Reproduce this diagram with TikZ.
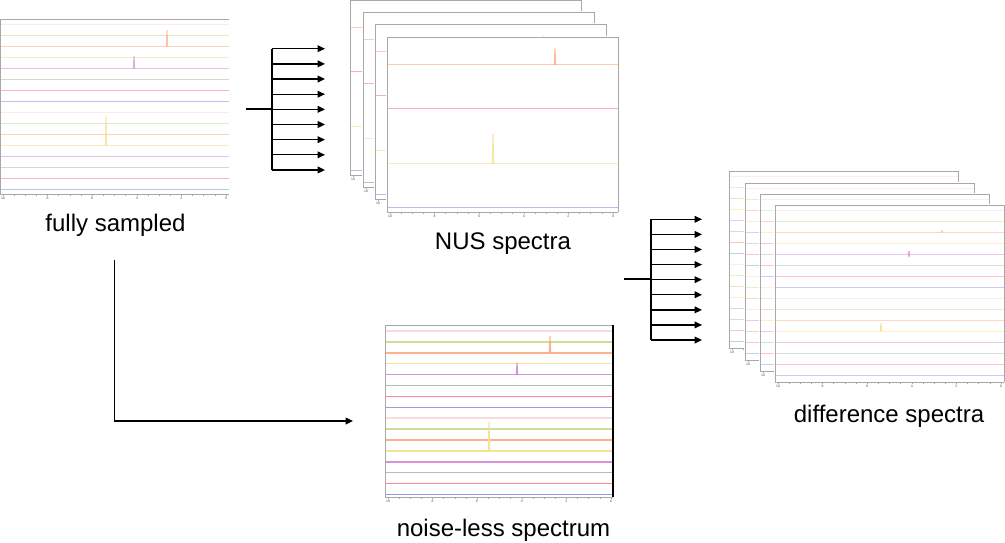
\documentclass[tikz,border=0pt]{standalone}
\usepackage{fontspec}
\setmainfont{Liberation Sans}
\usetikzlibrary{arrows.meta}
\definecolor{cpink}{HTML}{F8D8DC}
\definecolor{cyg}{HTML}{C8DC8C}
\definecolor{corange}{HTML}{FFA880}
\definecolor{cyellow}{HTML}{F4E08C}
\definecolor{cpurple}{HTML}{D488D4}
\definecolor{cgreen}{HTML}{A4BCA4}
\definecolor{cred}{HTML}{FF7888}
\definecolor{cblue}{HTML}{8C8CE4}
\definecolor{framegray}{HTML}{A8A8A8}
\tikzset{
  frameline/.style={draw=framegray, line width=0.65pt},
  tickline/.style={draw=framegray, line width=0.4pt},
  specline/.style={line width=0.75pt},
  fanline/.style={draw=black, line width=1pt},
  fanarrow/.style={draw=black, line width=1pt, -{Triangle[length=5.5pt,width=5pt]}},
  lbl/.style={font=\fontsize{18}{21}\selectfont, inner sep=0pt},
  ticklbl/.style={font=\fontsize{2.6}{3}\selectfont, inner sep=0pt, text=black!70}
}
\newcommand\allcols{0/cpink,1/cyg,2/corange,3/cyellow,4/cpurple,5/cgreen,6/cred,7/cblue,8/cpink,9/cyg,10/corange,11/cyellow,12/cpurple,13/cgreen,14/cred,15/cblue}
\newcommand\drawaxis[2]{%
  \draw[frameline] (0,#2) -- (#1,#2);
  \foreach \i in {0,...,20} {\draw[tickline] ({3+\i*11.15},#2) -- ({3+\i*11.15},#2+2);}
  \foreach \j/\t in {0/10,1/8,2/6,3/4,4/2,5/0} {\node[ticklbl] at ({3+\j*44.6},#2+4.5) {\t};}
}
\newcommand\drawlines[6]{%
  \edef\mylinelist{#5}%
  \foreach \k/\c in \mylinelist {\draw[specline, line width=#6, color=\c, opacity=#3] (0.5,{#1+\k*#2}) -- (#4,{#1+\k*#2});}
}
\newcommand\drawpeak[7]{%
  \pgfmathsetmacro\yb{#1+#3*#2}
  \fill[color=#6, opacity=#7] (#4-1.3,\yb+0.4) -- (#4-0.5,\yb-#5) -- (#4+0.5,\yb-#5) -- (#4+1.3,\yb+0.4) -- cycle;
}
\newcommand\nusframe[2]{%
  \begin{scope}[shift={(#1,#2)}]
    \fill[white] (-1,-1) rectangle (232,182);
    \drawlines{5.5}{11}{0.6}{231}{2/corange,6/cred,11/cyellow,15/cblue}{0.75pt}
    \drawpeak{5.5}{11}{2}{168}{16}{corange}{0.8}
    \drawpeak{5.5}{11}{11}{106}{30}{cyellow}{0.8}
    \draw[frameline] (0,175) -- (0,0) -- (231,0) -- (231,175);
    \drawaxis{231}{175}
  \end{scope}
}
\newcommand\diffframe[2]{%
  \begin{scope}[shift={(#1,#2)}]
    \fill[white] (-1,-1) rectangle (230,184);
    \drawlines{5}{11}{0.45}{229}{\allcols}{0.75pt}
    \drawpeak{5}{11}{2}{167}{2}{corange}{0.6}
    \drawpeak{5}{11}{4}{134}{3}{cpurple}{0.7}
    \drawpeak{5}{11}{4}{134}{-3}{cpurple}{0.7}
    \drawpeak{5}{11}{11}{106}{8}{cyellow}{0.8}
    \draw[frameline] (0,177) -- (0,0) -- (229,0) -- (229,177);
    \drawaxis{229}{177}
  \end{scope}
}
\begin{document}
\begin{tikzpicture}[x=0.75pt,y=-0.75pt]
\fill[white] (0,0) rectangle (1005,542);
\useasboundingbox (0,0) rectangle (1005,542);

% fully sampled
\begin{scope}[shift={(0,19)}]
  \drawlines{5.3}{11}{0.55}{229}{\allcols}{0.8pt}
  \drawpeak{5.3}{11}{2}{167}{16}{corange}{0.7}
  \drawpeak{5.3}{11}{4}{134}{12}{cpurple}{0.7}
  \drawpeak{5.3}{11}{11}{106}{30}{cyellow}{0.7}
  \draw[frameline] (229,0) -- (0,0) -- (0,175);
  \drawaxis{229}{175}
\end{scope}
\node[lbl] (fslbl) at (115.5,225.5) {fully sampled};

% NUS stack
\nusframe{350}{0}
\nusframe{363}{12}
\nusframe{375}{24}
\nusframe{387}{37}
\node[lbl] (nuslbl) at (503,243.5) {NUS spectra};

% difference stack
\diffframe{729}{171}
\diffframe{745}{183}
\diffframe{760}{194}
\diffframe{775}{205}
\node[lbl] (difflbl) at (889,416.5) {difference spectra};

% noise-less spectrum
\begin{scope}[shift={(385,325)}]
  \drawlines{6}{10.9}{0.9}{228}{\allcols}{1.1pt}
  \drawpeak{6}{10.9}{2}{165}{17}{corange}{0.9}
  \drawpeak{6}{10.9}{4}{132}{12}{cpurple}{0.9}
  \drawpeak{6}{10.9}{11}{104}{29}{cyellow}{0.9}
  \draw[frameline] (228,0) -- (0,0) -- (0,172);
  \draw[black, line width=1.2pt] (228,0) -- (228,172);
  \drawaxis{228}{172}
\end{scope}
\node[lbl] (nllbl) at (503.5,530.5) {noise-less spectrum};

% fan 1
\coordinate (fa) at (246,109);
\coordinate (fb) at (272,109);
\coordinate (fbtop) at (272,48.7);
\coordinate (fbbot) at (272,170);
\draw[fanline] (fa) -- (fb);
\draw[fanline] (fbtop) -- (fbbot);
\foreach \i in {0,...,8} {
  \coordinate (s\i) at (272,{48.7+\i*15.16});
  \coordinate (t\i) at (325,{48.7+\i*15.16});
  \draw[fanarrow] (s\i) -- (t\i);
}

% fan 2
\coordinate (ga) at (624,279);
\coordinate (gb) at (651,279);
\coordinate (gbtop) at (651,219.3);
\coordinate (gbbot) at (651,340);
\draw[fanline] (ga) -- (gb);
\draw[fanline] (gbtop) -- (gbbot);
\foreach \i in {0,...,8} {
  \coordinate (u\i) at (651,{219.3+\i*15.09});
  \coordinate (v\i) at (702,{219.3+\i*15.09});
  \draw[fanarrow] (u\i) -- (v\i);
}

% L connector
\coordinate (ls) at (114.5,260);
\coordinate (le) at (353,421);
\draw[fanarrow] (ls) |- (le);
\end{tikzpicture}
\end{document}
